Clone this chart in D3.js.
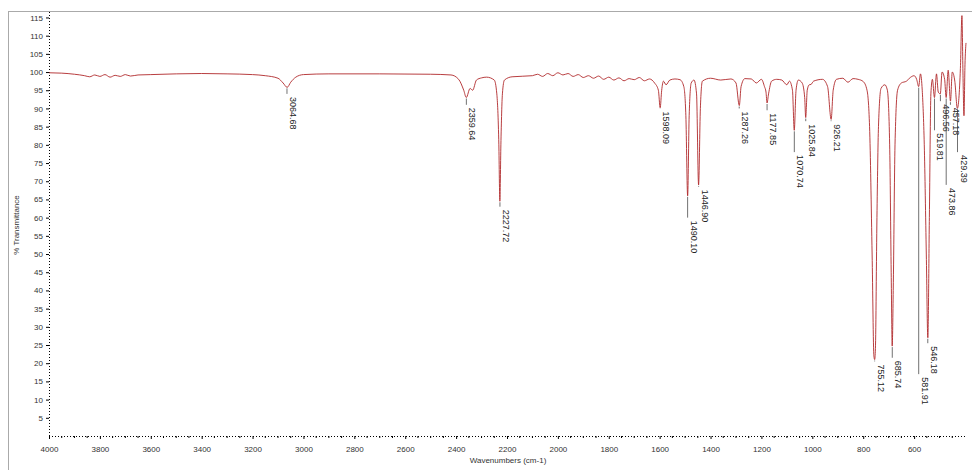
<!DOCTYPE html>
<html><head><meta charset="utf-8">
<script src="https://d3js.org/d3.v7.min.js"></script>
<style>body{margin:0;background:#fff}text{font-family:"Liberation Sans",Arial,sans-serif}</style>
</head><body><svg id="chart" width="972" height="470"></svg>
<script>
// spectrum points [wavenumber, %T]
const spectrum = [[4000,99.8],[3950,99.7],[3900,99.4],[3860,99.0],[3840,98.7],[3820,99.2],[3800,98.8],[3780,99.3],[3760,98.6],[3740,99.1],[3720,98.8],[3700,99.3],[3680,98.9],[3650,99.2],[3600,99.3],[3500,99.5],[3400,99.6],[3300,99.5],[3200,99.3],[3150,99.0],[3100,98.3],[3080,97.0],[3064,95.8],[3050,97.2],[3030,98.6],[3000,99.3],[2900,99.5],[2700,99.5],[2500,99.4],[2420,99.2],[2390,98.0],[2370,95.0],[2360,93.0],[2345,95.5],[2335,95.0],[2320,97.8],[2300,98.4],[2280,98.6],[2250,97.8],[2240,94],[2232,80],[2228,64.5],[2224,80],[2218,94],[2210,97.8],[2180,98.7],[2100,99.0],[2080,99.4],[2060,98.8],[2040,99.6],[2020,99.0],[2000,99.8],[1980,99.2],[1960,99.6],[1940,98.8],[1920,99.3],[1900,98.5],[1880,99.0],[1860,98.3],[1840,98.9],[1820,98.0],[1800,98.6],[1780,97.8],[1760,98.4],[1740,97.6],[1720,98.2],[1700,97.9],[1680,98.5],[1660,97.6],[1640,98.1],[1620,97.0],[1605,95],[1598,90.2],[1592,95],[1585,97.5],[1575,96.5],[1560,97.8],[1540,98.1],[1520,97.9],[1505,96],[1497,88],[1490,66],[1484,88],[1476,97],[1465,97.8],[1455,94],[1447,69],[1440,90],[1432,97.5],[1400,98.3],[1360,97.8],[1320,98.1],[1300,97],[1287,90.8],[1280,96],[1265,98.2],[1240,98.1],[1220,97],[1200,98],[1188,96],[1182,94.5],[1178,91.5],[1172,94],[1160,97.5],[1140,98],[1120,97.8],[1100,96.5],[1090,97.5],[1078,95],[1071,84],[1064,95],[1055,97.8],[1040,97],[1030,93],[1026,87.5],[1020,95],[1012,96.5],[1005,96.6],[995,97.5],[960,98],[940,96],[926,87],[918,95],[905,98],[880,98.3],[860,97.2],[840,98.2],[820,98.0],[800,97.4],[785,95],[775,85],[765,50],[758,22],[755,21],[752,24],[746,60],[740,85],[730,95.5],[715,96.5],[705,95],[696,80],[690,45],[686,24.7],[682,40],[675,80],[665,95],[650,97],[630,97.5],[615,98.5],[600,99],[590,98],[582,96],[575,99.5],[568,95],[560,80],[552,50],[546,27],[540,60],[534,94],[528,98],[520,93],[512,99.5],[505,94.5],[497,94],[490,100],[480,98],[474,93],[466,100.5],[457,92],[450,100],[440,97.5],[430,90],[418,101],[412,115.5],[408,100],[404,88],[400,102],[396,108]];

const peakPos = [3064.68,2359.64,2227.72,1598.09,1490.10,1446.90,1287.26,1177.85,1070.74,1025.84,926.21,755.12,685.74,581.91,546.18,519.81,496.56,473.86,457.18,429.39];
const peakT =   [95.8,93.0,64.5,90.2,66,69,90.8,91.5,84,87.5,87,21,24.7,96,27,93,94,93,92,90];
const labelT =  [94,91,63,90,60,68.5,90,89.5,78,86.5,86.5,20.5,21.5,17,25.5,84,92,69,91,78];

const xTicks = d3.range(4000, 599, -200);
const yTicks = d3.range(5, 116, 5);

const svg = d3.select("#chart");
const x = d3.scaleLinear().domain([4000, 396]).range([49, 966]);
const y = d3.scaleLinear().domain([0, 116.5]).range([436, 12]);

// frame
svg.append("rect").attr("x", 8.5).attr("y", 11.5).attr("width", 975).attr("height", 470)
  .attr("fill", "none").attr("stroke", "#aaa");

// y axis
const ya = svg.append("g").attr("transform", "translate(49,0)")
  .call(d3.axisLeft(y).tickValues(yTicks).tickFormat(d3.format("d")).tickSize(3).tickPadding(3));
ya.select(".domain").attr("stroke-dasharray", "1,2").attr("d", "M0.5,12V436");
ya.selectAll("text").style("font-size", "8px").attr("fill", "#333");

// x axis
const xa = svg.append("g").attr("transform", "translate(0,436)")
  .call(d3.axisBottom(x).tickValues(xTicks).tickFormat(d3.format("d")).tickSize(3).tickPadding(7));
xa.select(".domain").attr("stroke-dasharray", "1,2").attr("d", "M49,0.5H966");
xa.selectAll("text").style("font-size", "8px").attr("fill", "#333");
svg.append("g").selectAll("line").data(d3.range(3950, 396, -50).filter(v => v % 200))
  .join("line").attr("x1", d => x(d)).attr("x2", d => x(d)).attr("y1", 436).attr("y2", 438)
  .attr("stroke", "#000");

svg.append("text").attr("x", 508).attr("y", 463).attr("text-anchor", "middle")
  .style("font-size", "8px").attr("fill", "#333").text("Wavenumbers (cm-1)");
svg.append("text").attr("transform", "translate(19,225) rotate(-90)").attr("text-anchor", "middle")
  .style("font-size", "8px").attr("fill", "#333").text("% Transmittance");

// spectrum
svg.append("path").datum(spectrum)
  .attr("d", d3.line().x(d => x(d[0])).y(d => y(d[1])).curve(d3.curveMonotoneX))
  .attr("fill", "none").attr("stroke", "#b0282a").attr("stroke-width", 0.9);

// peak labels
const peaks = svg.append("g").selectAll("g").data(peakPos).join("g");
peaks.append("line")
  .attr("x1", d => x(d)).attr("x2", d => x(d))
  .attr("y1", (d, i) => y(peakT[i]) + 1).attr("y2", (d, i) => y(labelT[i]))
  .attr("stroke", "#333").attr("stroke-width", 0.7);
peaks.append("text")
  .attr("transform", (d, i) => `translate(${x(d) + 3},${y(labelT[i]) + 3}) rotate(90)`)
  .style("font-size", "9px").attr("fill", "#222")
  .text(d => d.toFixed(2));
</script></body></html>
